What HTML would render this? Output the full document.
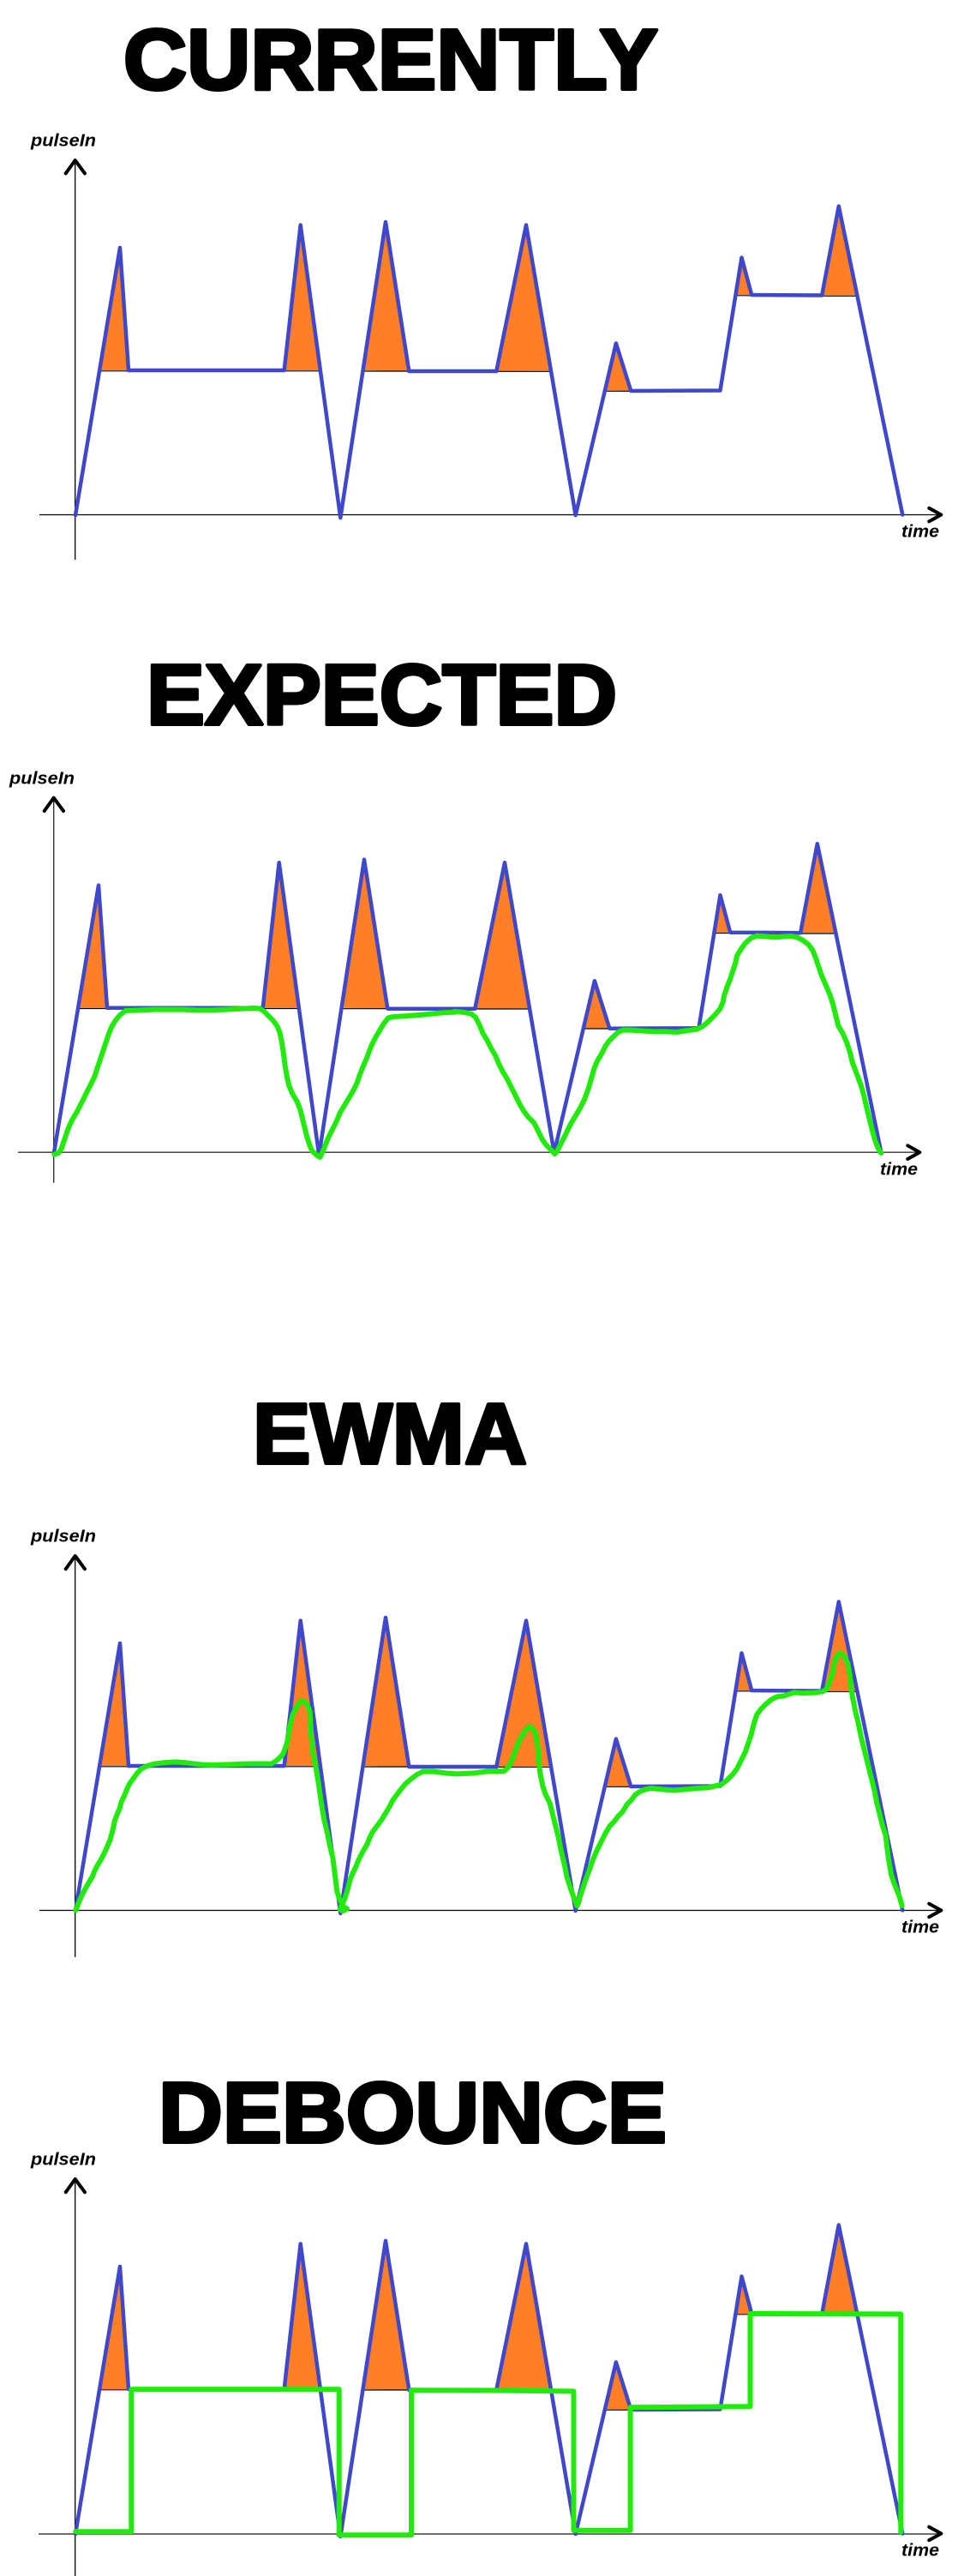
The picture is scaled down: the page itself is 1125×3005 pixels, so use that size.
<!DOCTYPE html>
<html>
<head>
<meta charset="utf-8">
<style>
  html, body { margin: 0; padding: 0; background: #ffffff; }
  body { width: 1125px; height: 3005px; overflow: hidden; }
  svg { display: block; }
  .title { font-family: "Liberation Sans", Arial, sans-serif; font-weight: bold; font-size: 100px; fill: #000; stroke: #000; stroke-width: 4; stroke-linejoin: round; }
  .lbl { font-family: "Liberation Sans", Arial, sans-serif; font-weight: bold; font-style: italic; font-size: 20px; fill: #000; }
  .tri { fill: #FF7F27; stroke: none; }
  .base { stroke: #000; stroke-width: 1.2; fill: none; }
  .blue { fill: none; stroke: #3F48CC; stroke-width: 4.5; stroke-linejoin: round; stroke-linecap: round; }
  .arrow { fill: none; stroke: #000; stroke-width: 4; stroke-linecap: round; stroke-linejoin: round; }
  .green { fill: none; stroke: #22EA0C; stroke-linejoin: round; stroke-linecap: round; }
</style>
</head>
<body>
<svg width="1125" height="3005" viewBox="0 0 1125 3005" xmlns="http://www.w3.org/2000/svg">
  <rect x="0" y="0" width="1125" height="3005" fill="#ffffff"/>

  <!-- Titles -->
  <text class="title" x="144" y="104" textLength="624" lengthAdjust="spacingAndGlyphs">CURRENTLY</text>
  <text class="title" x="171" y="845" textLength="549" lengthAdjust="spacingAndGlyphs">EXPECTED</text>
  <text class="title" x="295" y="1707" textLength="320" lengthAdjust="spacingAndGlyphs">EWMA</text>
  <text class="title" x="185" y="2499" textLength="593" lengthAdjust="spacingAndGlyphs">DEBOUNCE</text>

  <!-- ===== Chart 1: CURRENTLY ===== -->
  <g transform="translate(0,0)">
    <polygon class="tri" points="116.2,432 140,289 150.5,432"/>
    <polygon class="tri" points="331.7,432 350.7,262.5 373.8,432"/>
    <polygon class="tri" points="423.6,432 450,259 477.3,433"/>
    <polygon class="tri" points="579.3,433 614,262.5 643,432.5"/>
    <polygon class="tri" points="706,455.5 718.9,400.5 736.3,456"/>
    <polygon class="tri" points="858.5,344 865.5,300.5 877.2,344"/>
    <polygon class="tri" points="959.2,344.5 978.8,240.5 1000.5,344.5"/>
    <path class="base" d="M116 432.8H151 M331 432.8H375 M423 433H478 M579 433.3H644 M706 456.3H737 M858 344.8H878 M959 345.3H1002"/>
    <line x1="87.7" y1="188" x2="87.7" y2="653" stroke="#000" stroke-width="1.3"/>
    <line x1="46" y1="600.5" x2="1097" y2="600.5" stroke="#000" stroke-width="1.3"/>
    <polyline class="arrow" points="76.7,202.3 87.7,187 99,202.3"/>
    <polyline class="arrow" points="1084.3,592.7 1098.3,600.5 1084.3,608.3"/>
    <polyline class="blue" points="88,601 140,289 150,432 331.7,432 350.7,262.5 397.3,604 450,259 477.3,433 579.3,433 614,262.5 671.7,601 718.9,400.5 736.3,456 840.5,455.5 865.5,300.5 877.2,344 959.2,344.5 978.8,240.5 1053.3,600.5"/>
    <text class="lbl" x="36" y="170.7" textLength="76" lengthAdjust="spacingAndGlyphs">pulseIn</text>
    <text class="lbl" x="1052" y="626.7" textLength="44" lengthAdjust="spacingAndGlyphs">time</text>
  </g>

  <!-- ===== Chart 2: EXPECTED ===== -->
  <g transform="translate(-25,743.7)">
    <polygon class="tri" points="116.2,432 140,289 150.5,432"/>
    <polygon class="tri" points="331.7,432 350.7,262.5 373.8,432"/>
    <polygon class="tri" points="423.6,432 450,259 477.3,433"/>
    <polygon class="tri" points="579.3,433 614,262.5 643,432.5"/>
    <polygon class="tri" points="706,455.5 718.9,400.5 736.3,456"/>
    <polygon class="tri" points="858.5,344 865.5,300.5 877.2,344"/>
    <polygon class="tri" points="959.2,344.5 978.8,240.5 1000.5,344.5"/>
    <path class="base" d="M116 432.8H151 M331 432.8H375 M423 433H478 M579 433.3H644 M706 456.3H737 M858 344.8H878 M959 345.3H1002"/>
    <line x1="87.7" y1="188" x2="87.7" y2="636" stroke="#333" stroke-width="1.4"/>
    <line x1="46" y1="600.5" x2="1097" y2="600.5" stroke="#333" stroke-width="1.4"/>
    <polyline class="arrow" points="76.7,202.3 87.7,187 99,202.3"/>
    <polyline class="arrow" points="1084.3,592.7 1098.3,600.5 1084.3,608.3"/>
    <polyline class="blue" points="88,601 140,289 150,432 331.7,432 350.7,262.5 397.3,604 450,259 477.3,433 579.3,433 614,262.5 671.7,601 718.9,400.5 736.3,456 840.5,455.5 865.5,300.5 877.2,344 959.2,344.5 978.8,240.5 1053.3,600.5"/>
    <text class="lbl" x="36" y="170.7" textLength="76" lengthAdjust="spacingAndGlyphs">pulseIn</text>
    <text class="lbl" x="1052" y="626.7" textLength="44" lengthAdjust="spacingAndGlyphs">time</text>
  </g>
  <!-- Chart 2 green (page coords via zoom transforms) -->
  <g transform="translate(30,880) scale(0.333333)">
    <polyline class="green" stroke-width="18" points="100,1400 115,1395 125,1380 135,1350 145,1320 155,1295 165,1275 180,1250 195,1220 210,1190 225,1160 240,1130 250,1100 260,1070 270,1040 280,1010 290,980 300,955 315,930 330,912 350,897 400,895 450,893 500,893 550,893 600,895 650,895 700,893 760,890 800,888 820,890 835,900 850,915 865,930 880,950 890,975 897,1010 903,1050 908,1090 915,1130 922,1160 935,1190 950,1215 960,1240 968,1270 975,1300 985,1340 995,1370 1003,1388 1018,1402 1030,1410 1040,1390 1050,1365 1060,1340 1075,1310 1090,1280 1100,1255 1115,1230 1130,1205 1145,1180 1160,1150 1170,1120 1180,1095 1195,1060 1210,1020 1225,990 1240,965 1255,940 1270,922 1290,918 1340,915 1400,910 1450,905 1503,902"/>
  </g>
  <g transform="translate(530,880) scale(0.333333)">
    <polyline class="green" stroke-width="18" points="0,900 30,902 60,908 75,920 90,950 100,975 115,1000 130,1030 145,1055 155,1080 170,1110 185,1135 200,1165 215,1195 230,1225 245,1250 260,1270 280,1290 295,1320 310,1350 325,1370 340,1385 352,1398 360,1390 370,1370 380,1350 395,1320 410,1290 425,1265 440,1240 455,1210 470,1170 480,1135 490,1100 500,1075 515,1050 530,1020 545,1000 560,985 575,972 590,965 620,965 660,968 700,970 740,970 780,972 820,966 850,962 870,952 890,935 910,915 930,892 940,870 945,845 955,815 965,790 975,760 985,730 990,705 1005,680 1020,660 1040,642 1060,635 1090,637 1120,640 1150,638 1180,636 1200,640 1220,650 1240,665 1255,685 1265,710 1275,740 1285,770 1300,805 1315,840 1325,870 1335,910 1345,950 1360,975 1375,1010 1385,1040 1395,1080 1410,1120 1425,1160 1435,1195 1445,1240 1455,1280 1465,1320 1475,1355 1485,1380 1495,1395"/>
  </g>

  <!-- ===== Chart 3: EWMA ===== -->
  <g transform="translate(0,1628)">
    <polygon class="tri" points="116.2,432 140,289 150.5,432"/>
    <polygon class="tri" points="331.7,432 350.7,262.5 373.8,432"/>
    <polygon class="tri" points="423.6,432 450,259 477.3,433"/>
    <polygon class="tri" points="579.3,433 614,262.5 643,432.5"/>
    <polygon class="tri" points="706,455.5 718.9,400.5 736.3,456"/>
    <polygon class="tri" points="858.5,344 865.5,300.5 877.2,344"/>
    <polygon class="tri" points="959.2,344.5 978.8,240.5 1000.5,344.5"/>
    <path class="base" d="M116 432.8H151 M331 432.8H375 M423 433H478 M579 433.3H644 M706 456.3H737 M858 344.8H878 M959 345.3H1002"/>
    <line x1="87.7" y1="188" x2="87.7" y2="655" stroke="#000" stroke-width="1.3"/>
    <line x1="46" y1="600.5" x2="1097" y2="600.5" stroke="#000" stroke-width="1.3"/>
    <polyline class="arrow" points="76.7,202.3 87.7,187 99,202.3"/>
    <polyline class="arrow" points="1084.3,592.7 1098.3,600.5 1084.3,608.3"/>
    <polyline class="blue" points="88,601 140,289 150,432 331.7,432 350.7,262.5 397.3,604 450,259 477.3,433 579.3,433 614,262.5 671.7,601 718.9,400.5 736.3,456 840.5,455.5 865.5,300.5 877.2,344 959.2,344.5 978.8,240.5 1053.3,600.5"/>
    <text class="lbl" x="36" y="170.7" textLength="76" lengthAdjust="spacingAndGlyphs">pulseIn</text>
    <text class="lbl" x="1052" y="626.7" textLength="44" lengthAdjust="spacingAndGlyphs">time</text>
  </g>
  <g transform="translate(60,1760) scale(0.333333)">
    <polyline class="green" stroke-width="18" points="85,1405 95,1380 110,1345 130,1310 145,1285 150,1270 160,1250 175,1225 190,1195 205,1160 212,1135 218,1110 222,1090 230,1070 240,1045 245,1025 255,1005 265,980 275,960 290,940 300,925 315,910 335,900 360,893 400,888 440,886 480,890 520,895 560,897 620,895 680,893 740,892 770,893 790,880 810,860 825,820 835,760 845,720 860,690 875,672 893,680 905,710 910,800 915,850 925,900 935,960 945,1030 955,1090 965,1130 975,1180 985,1220 990,1260 995,1300 1000,1340 1010,1370 1020,1390 1035,1400 1020,1408 1010,1402 1015,1390 1025,1370 1035,1340 1045,1300 1055,1275 1065,1255 1075,1230 1090,1200 1105,1175 1115,1150 1125,1130 1140,1110 1155,1090 1170,1065 1185,1040 1195,1020 1210,1000 1225,980 1240,962 1260,945 1280,930 1300,920 1340,920 1380,925 1420,928 1480,925 1520,920 1563,918"/>
  </g>
  <g transform="translate(560,1760) scale(0.333333)">
    <polyline class="green" stroke-width="18" points="58,920 85,918 100,905 110,885 120,860 130,830 145,800 160,775 175,762 190,775 200,810 205,860 210,920 220,970 230,1000 245,1030 255,1070 265,1110 275,1150 285,1200 295,1240 305,1290 315,1320 325,1350 335,1375 340,1390 345,1380 350,1360 360,1330 370,1300 385,1260 395,1230 410,1195 425,1165 440,1135 455,1110 470,1095 485,1075 500,1060 515,1035 530,1020 545,1000 560,990 580,982 600,978 640,982 680,985 720,982 760,978 800,976 825,970 845,965 865,950 885,930 900,910 915,880 930,850 940,820 950,790 960,750 970,720 985,700 1000,685 1020,668 1040,658 1065,655 1100,643 1130,645 1170,644 1200,640 1215,630 1225,605 1235,575 1240,545 1250,515 1260,505 1275,515 1288,540 1295,580 1300,630 1305,660 1315,710 1325,750 1335,800 1345,840 1360,900 1370,940 1380,980 1390,1030 1400,1070 1410,1110 1420,1140 1425,1180 1430,1220 1435,1250 1440,1280 1450,1310 1460,1335 1470,1360 1478,1390"/>
  </g>

  <!-- ===== Chart 4: DEBOUNCE ===== -->
  <g transform="translate(0,2355)">
    <polygon class="tri" points="116.2,432 140,289 150.5,432"/>
    <polygon class="tri" points="331.7,432 350.7,262.5 373.8,432"/>
    <polygon class="tri" points="423.6,432 450,259 477.3,433"/>
    <polygon class="tri" points="579.3,433 614,262.5 643,432.5"/>
    <polygon class="tri" points="706,455.5 718.9,400.5 736.3,456"/>
    <polygon class="tri" points="858.5,344 865.5,300.5 877.2,344"/>
    <polygon class="tri" points="959.2,344.5 978.8,240.5 1000.5,344.5"/>
    <path class="base" d="M116 432.8H151 M331 432.8H375 M423 433H478 M579 433.3H644 M706 456.3H737 M858 344.8H878 M959 345.3H1002"/>
    <line x1="87.7" y1="188" x2="87.7" y2="660" stroke="#000" stroke-width="1.3"/>
    <line x1="45" y1="601" x2="1097" y2="601" stroke="#5a5a5a" stroke-width="1.8"/>
    <polyline class="arrow" points="76.7,202.3 87.7,187 99,202.3"/>
    <polyline class="arrow" points="1084.3,592.7 1098.3,600.5 1084.3,608.3"/>
    <polyline class="blue" points="88,601 140,289 150,432 331.7,432 350.7,262.5 397.3,604 450,259 477.3,433 579.3,433 614,262.5 671.7,601 718.9,400.5 736.3,456 840.5,455.5 865.5,300.5 877.2,344 959.2,344.5 978.8,240.5 1053.3,600.5"/>
    <text class="lbl" x="36" y="170.7" textLength="76" lengthAdjust="spacingAndGlyphs">pulseIn</text>
    <text class="lbl" x="1052" y="626.7" textLength="44" lengthAdjust="spacingAndGlyphs">time</text>
  </g>
  <polyline class="green" stroke-width="6" points="88.3,2953.3 153.3,2953.3 153.3,2787.3 395.7,2787.3 395.7,2957.3 480,2957.3 480,2788.3 575,2788.5 669.5,2789.5 669.5,2951.7 735.6,2951.7 735.6,2808.3 875.5,2807.3 875.5,2699 1051.3,2699.5 1051.3,2953.6"/>
</svg>
</body>
</html>
